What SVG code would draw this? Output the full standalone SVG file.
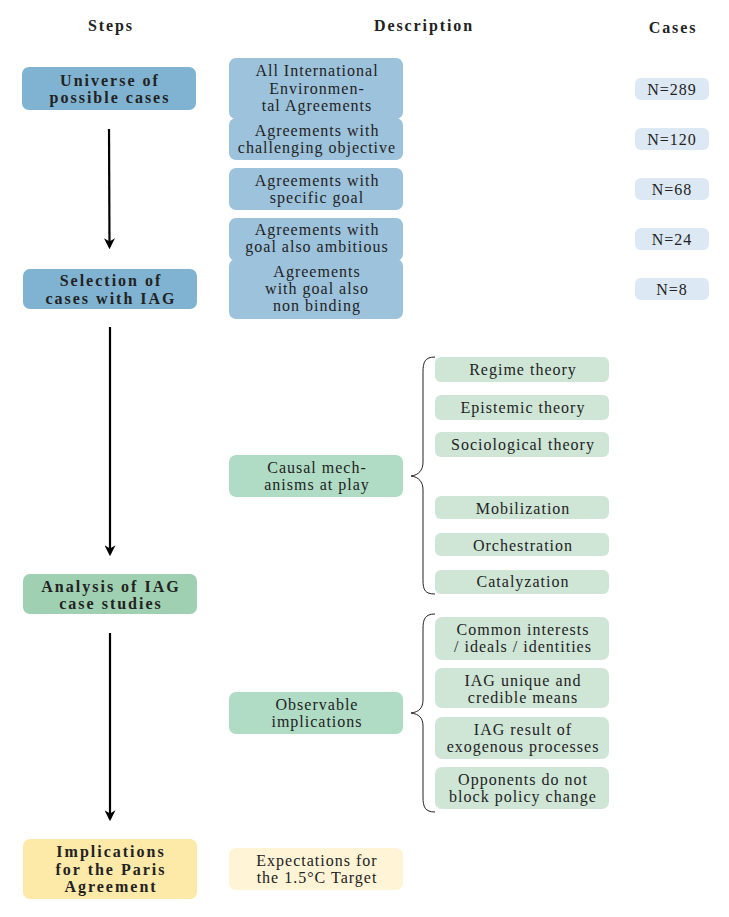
<svg xmlns="http://www.w3.org/2000/svg" width="729" height="917" viewBox="0 0 729 917">
<style>
text{font-family:"Liberation Serif","Times New Roman",serif;font-size:16px;letter-spacing:1px;fill:#222;text-anchor:middle;dominant-baseline:central}
.b{font-weight:bold;letter-spacing:2px}
.h{font-weight:bold;letter-spacing:1.9px}
.step1{fill:#7fb3d1}
.desc{fill:#9dc2dc}
.n{fill:#dce8f3}
.g1{fill:#9fd0b1}
.g2{fill:#b0dcc5}
.g3{fill:#cfe6d7}
.y1{fill:#fde9a8}
.y2{fill:#fff5d6}
.arr{stroke:#000;stroke-width:2.2;fill:none}
.br{stroke:#222;stroke-width:1;fill:none}
</style>
<defs>
<marker id="ah" viewBox="0 0 10 10" refX="8" refY="5" markerWidth="5" markerHeight="5" orient="auto">
<path d="M0,0 L10,5 L0,10 L3,5 z" fill="#000"/>
</marker>
</defs>
<g id="headers">
<text class="h" x="111" y="25">Steps</text>
<text class="h" x="424" y="25">Description</text>
<text class="h" x="673" y="27">Cases</text>
</g>
<g id="connectors">
<line class="arr" x1="109" y1="129" x2="109.5" y2="247" marker-end="url(#ah)"/>
<line class="arr" x1="110" y1="327" x2="110" y2="554" marker-end="url(#ah)"/>
<line class="arr" x1="110" y1="633" x2="110" y2="819" marker-end="url(#ah)"/>
<path class="br" d="M435,357 C425,357 423,362 423,372 L423,462 C423,470 419,475 411,476 C419,477 423,482 423,490 L423,580 C423,590 425,594 435,594"/>
<path class="br" d="M435,614 C425,614 423,619 423,629 L423,700 C423,708 419,712 411,713 C419,714 423,718 423,726 L423,797 C423,807 425,812 435,812"/>
</g>
<g id="step-universe"><rect class="step1" x="22" y="67" width="174" height="43" rx="7"/><text class="b" x="110" y="80">Universe of</text><text class="b" x="110" y="97">possible cases</text></g>
<g id="step-selection"><rect class="step1" x="23" y="269" width="174" height="40" rx="7"/><text class="b" x="111" y="280">Selection of</text><text class="b" x="111" y="298">cases with IAG</text></g>
<g id="step-analysis"><rect class="g1" x="23" y="574" width="174" height="40" rx="7"/><text class="b" x="111" y="586">Analysis of IAG</text><text class="b" x="111" y="603">case studies</text></g>
<g id="step-implications"><rect class="y1" x="23" y="839" width="174" height="60" rx="7"/><text class="b" x="111" y="851">Implications</text><text class="b" x="111" y="869">for the Paris</text><text class="b" x="111" y="886">Agreement</text></g>

<g id="desc-all"><rect class="desc" x="229" y="58" width="174" height="61" rx="7"/><text x="317" y="70">All International</text><text x="317" y="88">Environmen-</text><text x="317" y="105">tal Agreements</text></g>
<g id="desc-challenging"><rect class="desc" x="229" y="118" width="174" height="42" rx="7"/><text x="317" y="130">Agreements with</text><text x="317" y="147">challenging objective</text></g>
<g id="desc-specific"><rect class="desc" x="229" y="168" width="174" height="42" rx="7"/><text x="317" y="180">Agreements with</text><text x="317" y="197">specific goal</text></g>
<g id="desc-ambitious"><rect class="desc" x="229" y="218" width="174" height="43" rx="7"/><text x="317" y="229">Agreements with</text><text x="317" y="246">goal also ambitious</text></g>
<g id="desc-nonbinding"><rect class="desc" x="229" y="259" width="174" height="60" rx="7"/><text x="317" y="271">Agreements</text><text x="317" y="288">with goal also</text><text x="317" y="305">non binding</text></g>

<g id="n289"><rect class="n" x="635" y="78" width="74" height="22" rx="6"/><text x="672" y="89">N=289</text></g>
<g id="n120"><rect class="n" x="635" y="128" width="74" height="22" rx="6"/><text x="672" y="139">N=120</text></g>
<g id="n68"><rect class="n" x="635" y="178" width="74" height="22" rx="6"/><text x="672" y="189">N=68</text></g>
<g id="n24"><rect class="n" x="635" y="228" width="74" height="22" rx="6"/><text x="672" y="239">N=24</text></g>
<g id="n8"><rect class="n" x="635" y="278" width="74" height="22" rx="6"/><text x="672" y="289">N=8</text></g>

<g id="desc-causal"><rect class="g2" x="229" y="455" width="174" height="42" rx="7"/><text x="317" y="467">Causal mech-</text><text x="317" y="484">anisms at play</text></g>
<g id="desc-observable"><rect class="g2" x="229" y="692" width="174" height="42" rx="7"/><text x="317" y="704">Observable</text><text x="317" y="721">implications</text></g>
<g id="desc-expectations"><rect class="y2" x="229" y="848" width="174" height="42" rx="7"/><text x="317" y="860">Expectations for</text><text x="317" y="877">the 1.5°C Target</text></g>

<g id="regime"><rect class="g3" x="435" y="357" width="174" height="25" rx="6"/><text x="523" y="369">Regime theory</text></g>
<g id="epistemic"><rect class="g3" x="435" y="395" width="174" height="25" rx="6"/><text x="523" y="407">Epistemic theory</text></g>
<g id="sociological"><rect class="g3" x="435" y="432" width="174" height="25" rx="6"/><text x="523" y="444">Sociological theory</text></g>
<g id="mobilization"><rect class="g3" x="435" y="496" width="174" height="23" rx="6"/><text x="523" y="508">Mobilization</text></g>
<g id="orchestration"><rect class="g3" x="435" y="533" width="174" height="23" rx="6"/><text x="523" y="545">Orchestration</text></g>
<g id="catalyzation"><rect class="g3" x="435" y="570" width="174" height="24" rx="6"/><text x="523" y="581">Catalyzation</text></g>

<g id="common"><rect class="g3" x="435" y="617" width="174" height="43" rx="7"/><text x="523" y="629">Common interests</text><text x="523" y="646">/ ideals / identities</text></g>
<g id="unique"><rect class="g3" x="435" y="668" width="174" height="40" rx="7"/><text x="523" y="680">IAG unique and</text><text x="523" y="697">credible means</text></g>
<g id="result"><rect class="g3" x="435" y="717" width="174" height="42" rx="7"/><text x="523" y="729">IAG result of</text><text x="523" y="746">exogenous processes</text></g>
<g id="opponents"><rect class="g3" x="435" y="767" width="174" height="42" rx="7"/><text x="523" y="779">Opponents do not</text><text x="523" y="796">block policy change</text></g>
</svg>
